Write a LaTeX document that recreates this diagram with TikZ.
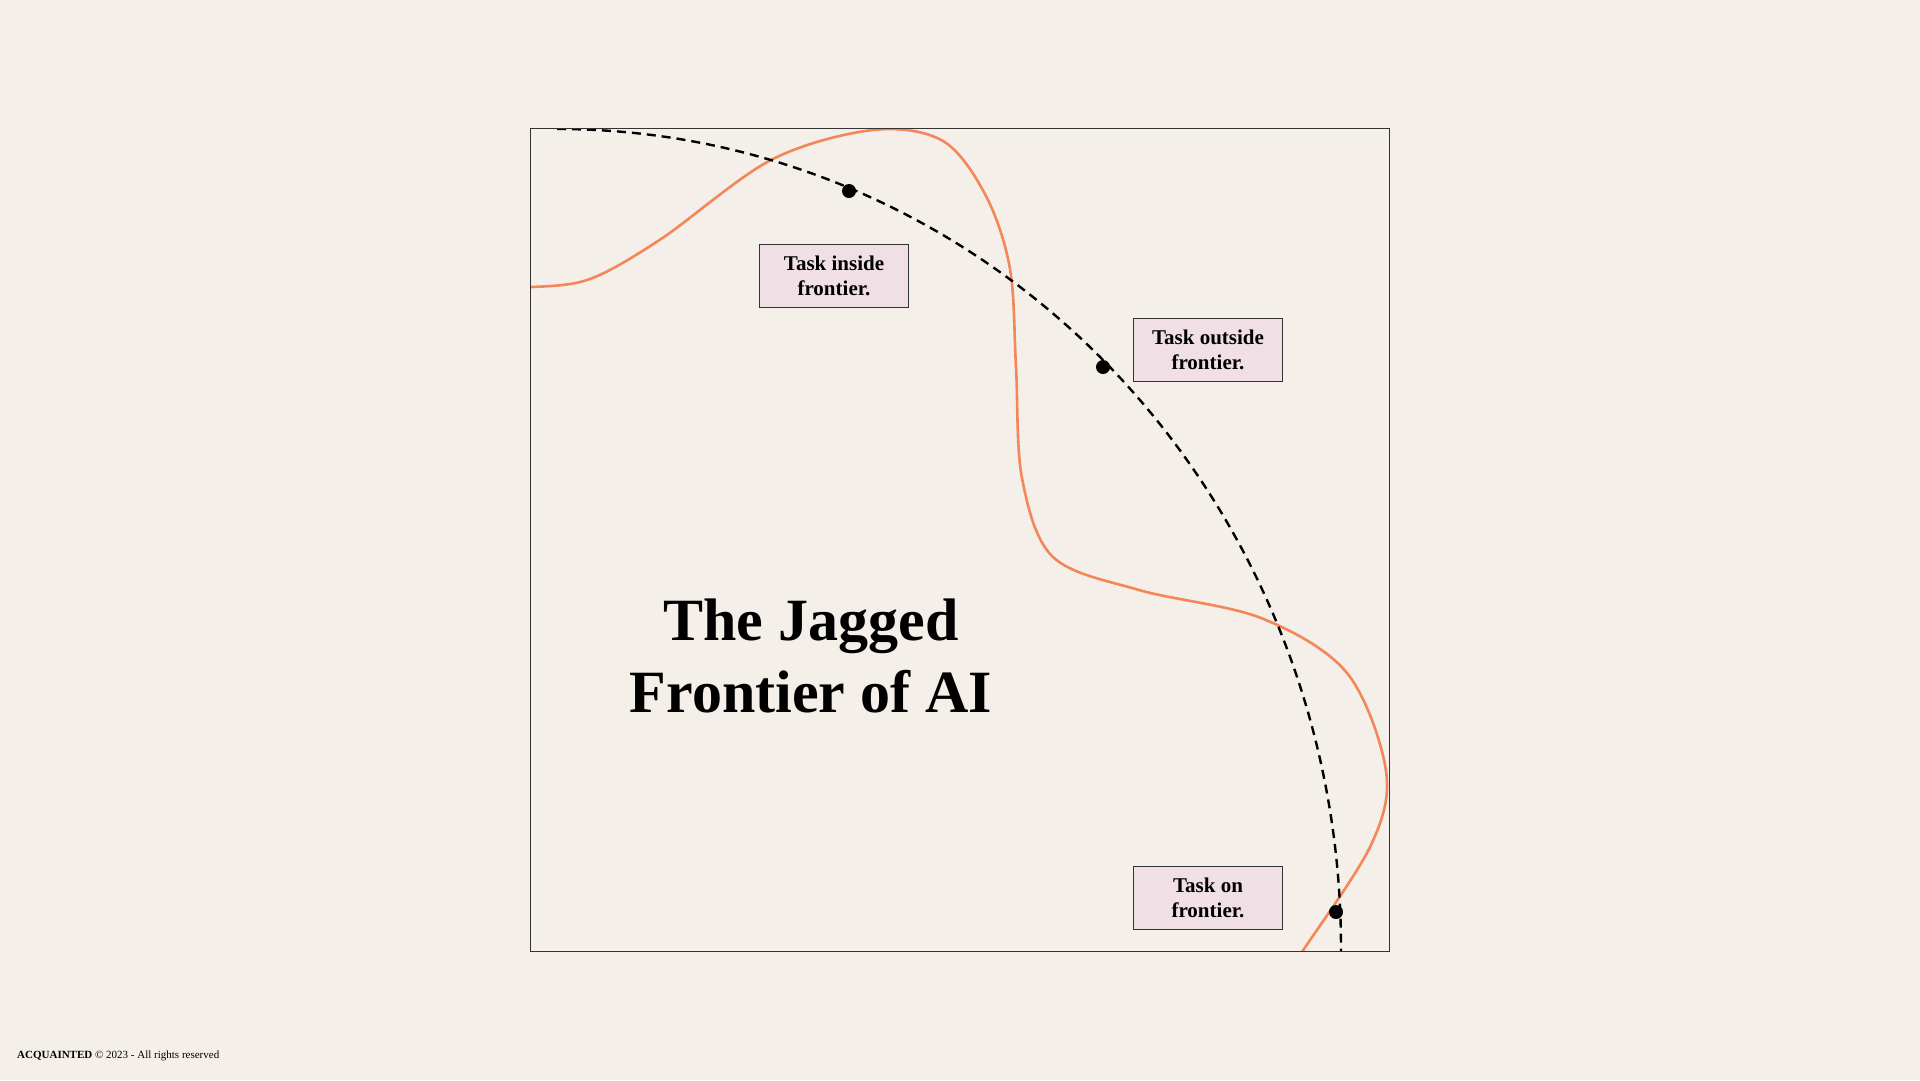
\documentclass[tikz,border=0pt]{standalone}
\usepackage{fontspec}
\setmainfont{Liberation Serif}
\begin{document}
\begin{tikzpicture}[x=1pt,y=-1pt,
  lbl/.style={draw=black!80,fill=boxpink,line width=0.9pt,minimum width=149pt,minimum height=63pt,align=center,inner sep=0pt,font=\fontsize{21}{25}\selectfont\bfseries},
  dot/.style={circle,fill=black,inner sep=0pt,minimum size=14pt}]
\definecolor{bg}{HTML}{F4EFE9}
\definecolor{boxpink}{HTML}{F0DFE4}
\definecolor{orng}{HTML}{F4875A}
\fill[bg] (0,0) rectangle (1920,1080);
\useasboundingbox (0,0) rectangle (1920,1080);
\begin{scope}
\clip (530,128) rectangle (1389,951);
\draw[orng,line width=2.6pt] plot[smooth,tension=0.55] coordinates {(510,284)(532,287)(590,279)(661,239)(771,160)(873,130)(943,141)(986,196)(1010,269)(1016,367)(1022,478)(1053,557)(1139,590)(1261,618)(1347,673)(1386,771)(1371,845)(1304,949)(1296,960)};
\draw[black,line width=2.4pt,dash pattern=on 9pt off 6pt] (557,129) arc[start angle=-90,end angle=0.5,x radius=784,y radius=818];
\end{scope}
\draw[black!80,line width=1pt] (530,128) rectangle (1389,951);
\node[dot] (d1) at (849,191) {};
\node[dot] (d2) at (1103,367) {};
\node[dot] (d3) at (1336,912) {};
\node[lbl] (b1) at (834,276) {Task inside\\frontier.};
\node[lbl] (b2) at (1208,350) {Task outside\\frontier.};
\node[lbl] (b3) at (1208,898) {Task on\\frontier.};
\node[font=\fontsize{60}{72}\selectfont\bfseries,align=center] (t) at (811,656) {The Jagged\\Frontier of AI};
\node[anchor=west,font=\fontsize{11}{13}\selectfont,inner sep=0pt] (f) at (17,1056) {\textbf{ACQUAINTED} © 2023 - All rights reserved};
\end{tikzpicture}
\end{document}
